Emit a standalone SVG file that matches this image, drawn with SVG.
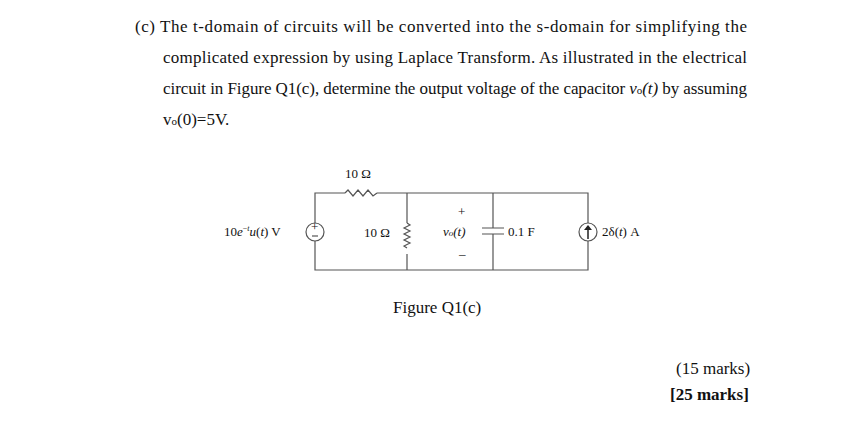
<svg xmlns="http://www.w3.org/2000/svg" width="854" height="427" viewBox="0 0 854 427">
<style>
text{font-family:"Liberation Serif",serif;fill:#111}
.t{font-size:17px}
.c{font-size:13px}
.w{stroke:#555;stroke-width:1.2;fill:none}
</style>
<rect width="854" height="427" fill="#fff"/>
<text class="t" x="135" y="32" textLength="612" lengthAdjust="spacing">(c) The t-domain of circuits will be converted into the s-domain for simplifying the</text>
<text class="t" x="163" y="63" textLength="584" lengthAdjust="spacing">complicated expression by using Laplace Transform. As illustrated in the electrical</text>
<text class="t" x="163" y="94" textLength="584" lengthAdjust="spacing">circuit in Figure Q1(c), determine the output voltage of the capacitor <tspan font-style="italic">v</tspan><tspan font-size="11">o</tspan><tspan font-style="italic">(t)</tspan> by assuming</text>
<text class="t" x="163" y="125">v<tspan font-size="11">o</tspan>(0)=5V.</text>
<g id="connectors">
<path class="w" d="M315 223V193H345M377 193H588V223M588 241V270H315V241"/>
<path class="w" d="M407 193V223M407 254V270"/>
<path class="w" d="M493 193V228M493 234V270"/>
</g>
<g id="R1"><path class="w" d="M345 193l3 -3 5 6 5 -6 5 6 5 -6 5 6 4 -3"/><text class="c" x="345" y="178">10 Ω</text></g>
<g id="R2"><path class="w" d="M407 223l3 2 -6 3 6 3 -6 3 6 3 -6 3 6 3 -6 3 3 2"/><text class="c" x="364" y="237">10 Ω</text></g>
<g id="C"><path class="w" d="M482 228H504M482 234H504"/><text class="c" x="443" y="236" font-style="italic">v<tspan font-size="9">o</tspan>(t)</text><text class="c" x="458" y="216">+</text><text class="c" x="459" y="258">–</text><text class="c" x="508" y="236">0.1 F</text></g>
<g id="V"><circle class="w" cx="315" cy="232" r="9"/><text class="c" x="311" y="231" font-size="10">+</text><path class="w" d="M312 236H318"/><text class="c" x="224" y="236">10<tspan font-style="italic">e</tspan><tspan font-size="8" dy="-5">−<tspan font-style="italic">t</tspan></tspan><tspan dy="5" font-style="italic">u</tspan>(<tspan font-style="italic">t</tspan>) V</text></g>
<g id="I"><circle class="w" cx="588" cy="232" r="9"/><path d="M588 239V229" stroke="#222" stroke-width="1.5"/><path d="M584 230L588 225L592 230Z" fill="#222"/><text class="c" x="602" y="236">2δ(<tspan font-style="italic">t</tspan>) A</text></g>
<text class="t" x="393" y="313" font-size="15">Figure Q1(c)</text>
<text class="t" x="676" y="374" font-size="15">(15 marks)</text>
<text class="t" x="670" y="400" font-size="15" font-weight="bold">[25 marks]</text>
</svg>
